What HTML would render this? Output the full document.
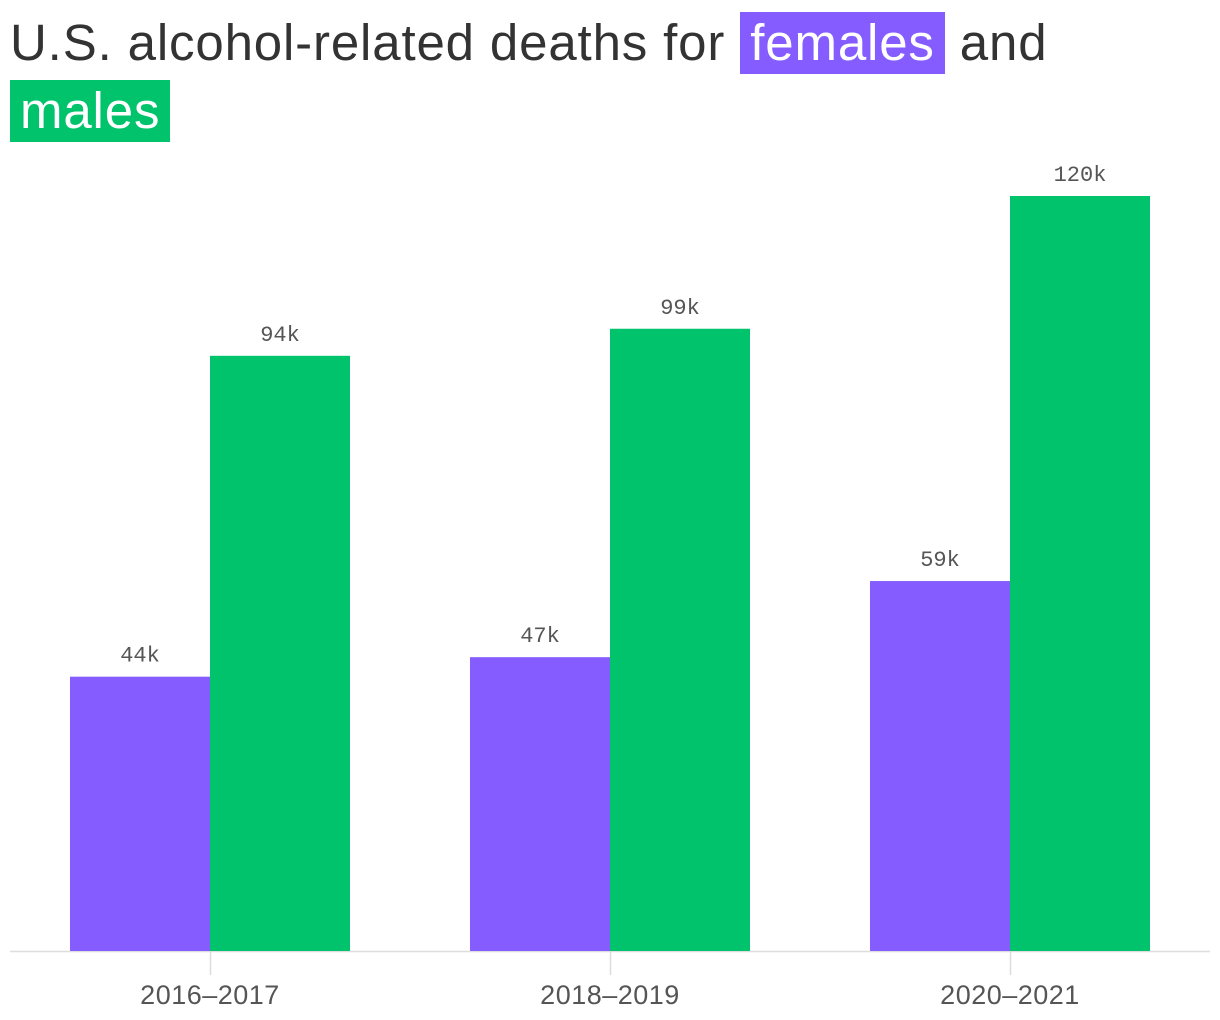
<!DOCTYPE html>
<html><head><meta charset="utf-8"><style>
body{margin:0;background:#fff;width:1220px;height:1020px;overflow:hidden;font-family:"Liberation Sans",sans-serif}
h1{position:absolute;left:10px;top:9px;margin:0;font-weight:normal;font-size:51px;line-height:68px;color:#333;width:1210px;letter-spacing:0.85px}
.hl{color:#fff;padding:2px 10px 3px 10px}
</style></head><body>
<h1>U.S. alcohol-related deaths for <span class="hl" style="background:#855cff">females</span> and<br><span class="hl" style="background:#00c36b">males</span></h1>
<svg id="chart" width="1220" height="1020" style="position:absolute;left:0;top:0"></svg>
<script>
const categories=["2016–2017","2018–2019","2020–2021"];
const femaleValues=[43.6,46.7,58.8];
const maleValues=[94.6,98.9,120];
const femaleLabels=["44k","47k","59k"];
const maleLabels=["94k","99k","120k"];
const svg=document.getElementById('chart');
const NS='http://www.w3.org/2000/svg';
const base=951, top0=196, vmax=120;
const y=v=>base-(base-top0)*v/vmax;
const xc=i=>210+400*i;
function mk(t,a){const e=document.createElementNS(NS,t);for(const k in a)e.setAttribute(k,a[k]);svg.appendChild(e);return e;}
const ax=mk('line',{x1:10,x2:1210,y1:base+0.5,y2:base+0.5,stroke:'#ddd','stroke-width':1.5});


categories.forEach((c,i)=>{
  const tk=mk('line',{x1:xc(i)+0.5,x2:xc(i)+0.5,y1:base,y2:975,stroke:'#ddd','stroke-width':1.5});
  
  
  const fb=mk('rect',{x:xc(i)-140,y:y(femaleValues[i]),width:140,height:base-y(femaleValues[i]),fill:'#855cff'});
  
  
  const mb=mk('rect',{x:xc(i),y:y(maleValues[i]),width:140,height:base-y(maleValues[i]),fill:'#00c36b'});
  
  
  const fl=mk('text',{x:xc(i)-70,y:y(femaleValues[i])-15,'text-anchor':'middle','font-family':'Liberation Mono, monospace','font-size':22,fill:'#555'});
  fl.textContent=femaleLabels[i];
  
  
  const ml=mk('text',{x:xc(i)+70,y:y(maleValues[i])-15,'text-anchor':'middle','font-family':'Liberation Mono, monospace','font-size':22,fill:'#555'});
  ml.textContent=maleLabels[i];
  
  
  const cl=mk('text',{x:xc(i),y:1004,'text-anchor':'middle','font-family':'Liberation Sans, sans-serif','font-size':27,fill:'#555','letter-spacing':'0.5'});
  cl.textContent=c;
  
  
});
</script>
</body></html>
